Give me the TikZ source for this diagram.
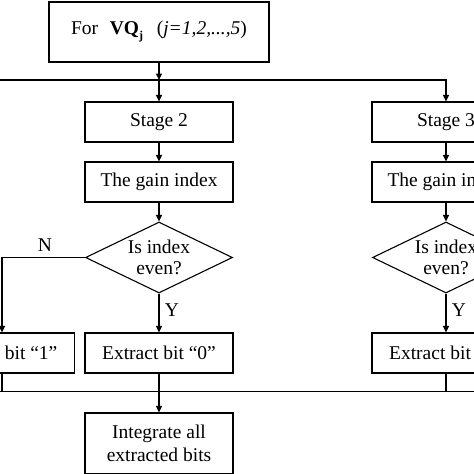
\documentclass[tikz,border=0pt]{standalone}
\usepackage{fontspec}
\setmainfont{Liberation Serif}
\usetikzlibrary{shapes.geometric,arrows.meta}
\begin{document}
\begin{tikzpicture}[x=1pt,y=-1pt,
  font=\fontsize{19.5}{21}\selectfont,
  box/.style={draw, line width=1.1pt, minimum width=148pt, minimum height=40pt, inner sep=0pt, align=center},
  dia/.style={draw, diamond, line width=1.1pt, minimum width=147pt, minimum height=71pt, inner sep=0pt},
  dtext/.style={align=center, inner sep=0pt, font=\fontsize{19.5}{21}\selectfont},
  ln/.style={line width=1.1pt},
  arr/.style={ln, -{Triangle[length=6.5pt,width=6pt]}},
  lbl/.style={inner sep=0pt}]
\useasboundingbox (0,0) rectangle (474,474);
\clip (0,0) rectangle (474,474);
% top
\node[box, minimum width=220pt, minimum height=60pt] (top) at (159,32)
  {For\hspace{0.6em}\textbf{VQ}\raisebox{-5pt}{\fontsize{12}{12}\selectfont\bfseries j}\hspace{0.7em}(\textit{j=1,2,...,5})};
\coordinate (jn) at (159,80);
\coordinate (jl) at (0,80);
% stage 2 column
\node[box] (s2) at (159,122) {Stage 2};
\node[box] (g2) at (159,182) {The gain index};
\node[dia] (d2) at (159,257.5) {};
\node[dtext] at (d2) {Is index\\even?};
\node[box] (e1) at (0.5,353) {Extract bit “1”};
\node[box] (e0) at (159,353) {Extract bit “0”};
\node[box, minimum height=61pt, font=\fontsize{19.5}{23}\selectfont] (int) at (159,443.5) {Integrate all\\extracted bits};
% stage 3 column
\node[box] (s3) at (446,122) {Stage 3};
\node[box] (g3) at (446,182) {The gain index};
\node[dia] (d3) at (446,257.5) {};
\node[dtext] at (d3) {Is index\\even?};
\node[box] (e3) at (446,353) {Extract bit “0”};
% labels
\node[lbl] (n2) at (45,245) {N};
\node[lbl] (y2) at (172,310) {Y};
\node[lbl] (y3) at (459,310) {Y};
% bottom bus
\coordinate (bl) at (0,391.5);
\coordinate (br) at (474,391.5);
% connectors
\draw[arr] (top.south) -- (jn);
\draw[arr] (jn) -- (s2.north);
\draw[arr] (jl) -| (s3.north);
\draw[arr] (s2.south) -- (g2.north);
\draw[arr] (g2.south) -- (d2.north);
\draw[arr] (d2.west) -| ([xshift=1.5pt]e1.north);
\draw[arr] (d2.south) -- (e0.north);
\draw[arr] (s3.south) -- (g3.north);
\draw[arr] (g3.south) -- (d3.north);
\draw[arr] (d3.south) -- (e3.north);
\draw[ln] (bl) -- (br);
\draw[ln] ([xshift=1.5pt]e1.south) -- ([xshift=1.5pt]e1.south |- bl);
\draw[ln] (e3.south) -- (e3.south |- bl);
\draw[arr] (e0.south) -- (int.north);
\end{tikzpicture}
\end{document}
